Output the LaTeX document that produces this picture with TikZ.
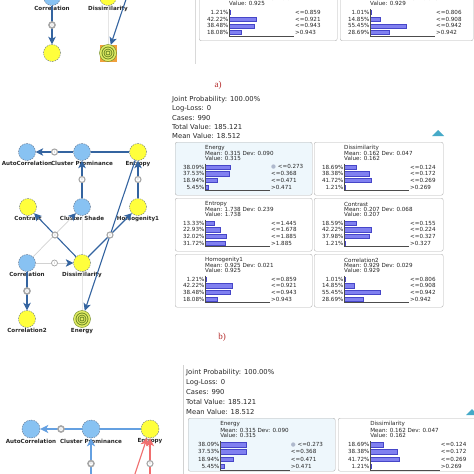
\documentclass[tikz,border=0pt]{standalone}
\usepackage{fontspec}
\setmainfont{DejaVu Sans}
\newfontfamily\capfont{Liberation Serif}
\usetikzlibrary{arrows.meta}

\definecolor{nodeblue}{RGB}{136,194,242}
\definecolor{nodeyellow}{RGB}{255,255,60}
\definecolor{nodeedge}{RGB}{95,110,135}
\definecolor{edgedark}{RGB}{52,100,160}
\definecolor{edgelight}{RGB}{100,160,225}
\definecolor{edgered}{RGB}{240,110,110}
\definecolor{barfill}{RGB}{128,128,240}
\definecolor{baredge}{RGB}{70,70,200}
\definecolor{selfill}{RGB}{238,247,252}
\definecolor{dotgray}{RGB}{175,185,205}
\definecolor{ringgreen}{RGB}{105,135,35}
\definecolor{targetfill}{RGB}{225,235,100}
\definecolor{selorange}{RGB}{240,160,60}
\definecolor{tealmark}{RGB}{70,170,200}
\definecolor{capred}{RGB}{180,40,40}

\newcommand{\dotmark}{\textcolor{dotgray}{●}}

% monitor box: scope options, width, extra style, name, title, mean, value, rows
\newcommand{\probbox}[8]{%
  \begin{scope}[#1]
    \node[monitor, minimum width=#2, #3] (#4) at (0,0) {};
    \node[boxtext] (#4-title) at (30,6) {#5};
    \node[boxtext] (#4-mean) at (30,11.2) {#6};
    \node[boxtext] (#4-value) at (30,16.4) {#7};
    \foreach \p/\l [count=\k] in {#8} {
      \pgfmathsetmacro\yy{25+6.67*(\k-1)}
      \node[boxtext, anchor=east] (#4-p\k) at (29.6,\yy) {\p\%};
      \draw[bar] (30,\yy-2.1) rectangle (30+0.65*\p,\yy+2.1);
      \node[boxtext] (#4-l\k) at (96,\yy) {\l};
    }
    \draw[axisline] (30,21.5) -- (30,48.5) -- (95,48.5);
  \end{scope}}

\begin{document}
\begin{tikzpicture}[
x=1pt, y=-1pt,
bnode/.style={circle, draw=nodeedge, dash pattern=on 1.5pt off 1pt, fill=nodeblue, minimum size=17, inner sep=0, label distance=3pt},
ynode/.style={bnode, fill=nodeyellow},
target/.style={bnode, fill=targetfill, solid, draw=ringgreen,
  path picture={\foreach \r in {6,4,2}{\draw[ringgreen, line width=0.8pt] (path picture bounding box.center) circle (\r pt);}}},
selbox/.style={rectangle, fill=selorange, minimum size=17, inner sep=0},
netlab/.style={font=\bfseries\fontsize{5.6}{6}\selectfont, text=black!85, inner sep=0.5pt},
info/.style={circle, draw=gray!70, fill=white, inner sep=0, minimum size=6, font=\fontsize{3.5}{3.5}\selectfont, text=gray},
arrow/.style={-{Stealth[length=7.5pt, width=7.5pt, inset=2pt]}, draw=edgedark, line width=1.1pt},
weak/.style={-{Stealth[length=7.5pt, width=7.5pt, inset=2pt, color=edgedark]}, draw=gray!35, line width=0.7pt},
faint/.style={draw=gray!20, line width=0.6pt},
link/.style={draw=edgedark, line width=1.1pt},
carrow/.style={-{Stealth[length=8pt, width=8pt, inset=2pt]}, draw=edgelight, line width=1.6pt},
rarrow/.style={-{Stealth[length=8pt, width=8pt, inset=2pt]}, draw=edgered, line width=1.1pt},
monitor/.style={draw=gray!60, rounded corners=2pt, anchor=north west, minimum height=53, inner sep=0, fill=white},
boxtext/.style={font=\fontsize{5.6}{6}\selectfont, text=black!85, inner sep=0, anchor=west},
bar/.style={fill=barfill, draw=baredge, line width=0.3pt},
axisline/.style={draw=black!70, line width=0.4pt},
summary/.style={font=\fontsize{6.8}{8}\selectfont, text=black!85, inner sep=0, anchor=west},
caption/.style={font=\capfont\fontsize{9}{10}\selectfont, text=capred}
]
\useasboundingbox (0,0) rectangle (474,474);
\clip (0,0) rectangle (474,474);
\fill[white] (0,0) rectangle (474,474);

% ---- panel a) ----
\draw[gray!30, line width=0.5pt] (195,0) -- (195,64);
\probbox{shift={(199,-12.5)}}{138}{}{monhoma}{}{Mean: 0.925 Dev: 0.021}{Value: 0.925}
  {1.21/{<=0.859}, 42.22/{<=0.921}, 38.48/{<=0.943}, 18.08/{>0.943}}
\probbox{shift={(340,-12.5)}}{133}{}{moncorra}{}{Mean: 0.929 Dev: 0.029}{Value: 0.929}
  {1.01/{<=0.806}, 14.85/{<=0.908}, 55.45/{<=0.942}, 28.69/{>0.942}}
\node[caption] (capa) at (218,85) {a)};

% network a
\node[bnode, label={[netlab]below:Correlation}] (corra) at (52,-3) {};
\node[ynode, label={[netlab]below:Dissimilarity}] (dissa) at (108,-3) {};
\node[ynode] (corr2a) at (52,53) {};
\node[selbox] (sela) at (108,53) {};
\node[target] (energya) at (108,53) {};
\coordinate (enta) at (164,-114);

\draw[faint] (dissa) -- (energya);
\draw[arrow, line width=1.6pt] (corra) -- node[info] (ia1) {i} (corr2a);
\draw[arrow] (enta) -- (energya);

% ---- panel b) ----
\foreach \t [count=\k] in {Joint Probability: 100.00\%, Log-Loss: 0, Cases: 990, Total Value: 185.121, Mean Value: 18.512}
  \node[summary] (sumb-\k) at (172,100+9*\k-9) {\t};
\fill[tealmark] (432,136) -- (444,136) -- (438,130) -- cycle;

\probbox{shift={(175,142)}}{137}{fill=selfill}{monenergyb}{Energy}{Mean: 0.315 Dev: 0.090}{Value: 0.315}
  {38.09/{\dotmark\ <=0.273}, 37.53/{<=0.368}, 18.94/{<=0.471}, 5.45/{>0.471}}
\probbox{shift={(314,142)}}{129}{}{mondissb}{Dissimilarity}{Mean: 0.162 Dev: 0.047}{Value: 0.162}
  {18.69/{<=0.124}, 38.38/{<=0.172}, 41.72/{<=0.269}, 1.21/{>0.269}}
\probbox{shift={(175,198)}}{137}{}{monentb}{Entropy}{Mean: 1.738 Dev: 0.239}{Value: 1.738}
  {13.33/{<=1.445}, 22.93/{<=1.678}, 32.02/{<=1.885}, 31.72/{>1.885}}
\probbox{shift={(314,198)}}{129}{}{moncontb}{Contrast}{Mean: 0.207 Dev: 0.068}{Value: 0.207}
  {18.59/{<=0.155}, 42.22/{<=0.224}, 37.98/{<=0.327}, 1.21/{>0.327}}
\probbox{shift={(175,254)}}{137}{}{monhomb}{Homogenity1}{Mean: 0.925 Dev: 0.021}{Value: 0.925}
  {1.21/{<=0.859}, 42.22/{<=0.921}, 38.48/{<=0.943}, 18.08/{>0.943}}
\probbox{shift={(314,254)}}{129}{}{moncorrb}{Correlation2}{Mean: 0.929 Dev: 0.029}{Value: 0.929}
  {1.01/{<=0.806}, 14.85/{<=0.908}, 55.45/{<=0.942}, 28.69/{>0.942}}
\node[caption] (capb) at (222,337) {b)};

% network b
\node[bnode, label={[netlab]below:AutoCorrelation}] (autob) at (27,152) {};
\node[bnode, label={[netlab]below:Cluster Prominance}] (promb) at (82,152) {};
\node[ynode, label={[netlab]below:Entropy}] (entb) at (138,152) {};
\node[ynode, label={[netlab]below:Contrast}] (contb) at (28,207) {};
\node[bnode, label={[netlab]below:Cluster Shade}] (shadeb) at (82,207) {};
\node[ynode, label={[netlab]below:Homogenity1}] (homb) at (138,207) {};
\node[bnode, label={[netlab]below:Correlation}] (corrb) at (27,263) {};
\node[ynode, label={[netlab]below:Dissimilarity}] (dissb) at (82,263) {};
\node[ynode, label={[netlab]below:Correlation2}] (corr2b) at (27,319) {};
\node[target, label={[netlab]below:Energy}] (energyb) at (82,319) {};

\draw[faint] (shadeb) -- (dissb);
\draw[faint] (dissb) -- (energyb);
\draw[weak] (corrb) -- (shadeb);
\draw[arrow] (entb) -- (energyb);
\draw[arrow] (dissb) -- node[info] (ib1) {i} (contb);
\draw[arrow] (dissb) -- node[info] (ib2) {i} (homb);
\draw[weak] (corrb) -- node[info] (ib3) {i} (dissb);
\draw[arrow, line width=1.6pt] (corrb) -- node[info] (ib4) {i} (corr2b);
\draw[link] (promb) -- (entb);
\draw[arrow] (promb) -- node[info] (ib5) {i} (autob);
\draw[arrow] (shadeb) -- node[info] (ib6) {i} (promb);
\draw[arrow] (homb) -- node[info] (ib7) {i} (entb);

% ---- panel c) ----
\draw[gray!35, line width=0.5pt] (183,365) -- (183,474);
\foreach \t [count=\k] in {Joint Probability: 100.00\%, Log-Loss: 0, Cases: 990, Total Value: 185.121, Mean Value: 18.512}
  \node[summary] (sumc-\k) at (186,373+9.75*\k-9.75) {\t};
\fill[tealmark] (466,415) -- (478,415) -- (472,409) -- cycle;

\probbox{shift={(188,418)}, scale=1.07}{147}{fill=selfill}{monenergyc}{Energy}{Mean: 0.315 Dev: 0.090}{Value: 0.315}
  {38.09/{\dotmark\ <=0.273}, 37.53/{<=0.368}, 18.94/{<=0.471}, 5.45/{>0.471}}
\probbox{shift={(338,418)}, scale=1.07}{140}{}{mondissc}{Dissimilarity}{Mean: 0.162 Dev: 0.047}{Value: 0.162}
  {18.69/{<=0.124}, 38.38/{<=0.172}, 41.72/{<=0.269}, 1.21/{>0.269}}

% network c
\node[bnode, minimum size=18, label={[netlab]below:AutoCorrelation}] (autoc) at (31,429) {};
\node[bnode, minimum size=18, label={[netlab]below:Cluster Prominance}] (promc) at (91,429) {};
\node[ynode, minimum size=18, label={[netlab]below:Entropy}] (entc) at (150,429) {};
\coordinate (shadec) at (91,489);
\coordinate (homc) at (150,489);
\coordinate (energyc) at (90,608);

\draw[carrow] (promc) -- node[info] (ic1) {i} (autoc);
\draw[edgelight, line width=1.6pt] (promc) -- (entc);
\draw[carrow] (shadec) -- node[info] (ic2) {i} (promc);
\draw[rarrow] (energyc) -- (entc);
\draw[rarrow] (homc) -- node[info] (ic3) {i} (entc);

\end{tikzpicture}
\end{document}
